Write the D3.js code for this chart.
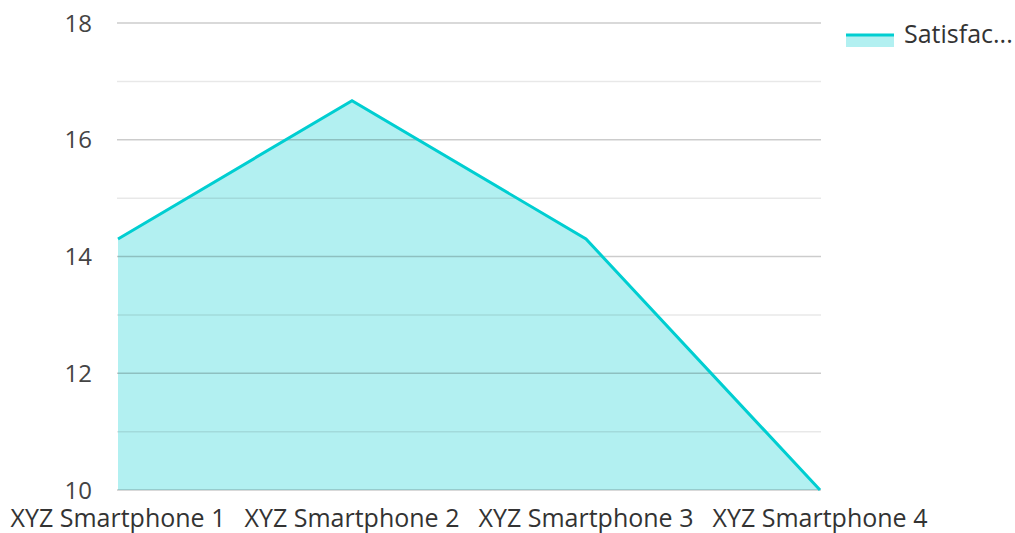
<!DOCTYPE html>
<html><head><meta charset="utf-8">
<script src="https://cdn.jsdelivr.net/npm/d3@7"></script>
<style>
body{margin:0;background:#fff;}
svg text{font-family:"Open Sans","Noto Sans",sans-serif;}
</style></head>
<body><svg id="c" width="1015" height="533"></svg>
<script>
const categories = ["XYZ Smartphone 1","XYZ Smartphone 2","XYZ Smartphone 3","XYZ Smartphone 4"];
const satisfaction = [14.3, 16.67, 14.3, 10];
const seriesName = "Satisfac...";
const majorTicks = [10,12,14,16,18];
const minorTicks = [11,13,15,17];

const svg = d3.select("#c");
const x = d3.scalePoint().domain(categories).range([118, 820]).padding(0);
const y = d3.scaleLinear().domain([10, 18]).range([490, 23]);
const color = "#00CED1";

const data = categories.map((c,i)=>({c, v:satisfaction[i]}));

// area fill
svg.append("path").datum(data)
  .attr("d", d3.area().x(d=>x(d.c)).y0(y(10)).y1(d=>y(d.v)))
  .attr("fill", color).attr("fill-opacity", 0.3);

// grid
svg.append("g").selectAll("line").data(minorTicks).join("line")
  .attr("x1",117).attr("x2",821).attr("y1",d=>y(d)).attr("y2",d=>y(d))
  .attr("stroke","#000").attr("stroke-opacity",0.09).attr("stroke-width",1.5);
svg.append("g").selectAll("line").data(majorTicks).join("line")
  .attr("x1",117).attr("x2",821).attr("y1",d=>y(d)).attr("y2",d=>y(d))
  .attr("stroke","#000").attr("stroke-opacity",0.2).attr("stroke-width",1.5);

// line
svg.append("path").datum(data)
  .attr("d", d3.line().x(d=>x(d.c)).y(d=>y(d.v)))
  .attr("fill","none").attr("stroke",color).attr("stroke-width",3).attr("stroke-linejoin","miter");

// y labels
svg.append("g").selectAll("text").data(majorTicks).join("text")
  .attr("x",92).attr("y",d=>y(d)).attr("dy","0.36em").attr("text-anchor","end")
  .attr("font-size",24).attr("fill","#444").text(d=>d);

// x labels
svg.append("g").selectAll("text").data(categories).join("text")
  .attr("x",d=>x(d)).attr("y",527).attr("text-anchor","middle")
  .attr("font-size",25).attr("fill","#333").text(d=>d);

// legend
const lg = svg.append("g");
lg.append("rect").attr("x",846).attr("y",35).attr("width",48).attr("height",12)
  .attr("fill",color).attr("fill-opacity",0.3);
lg.append("line").attr("x1",846).attr("x2",894).attr("y1",35).attr("y2",35)
  .attr("stroke",color).attr("stroke-width",3);
lg.append("text").attr("x",904).attr("y",43).attr("font-size",25).attr("fill","#333").text(seriesName);
</script></body></html>
